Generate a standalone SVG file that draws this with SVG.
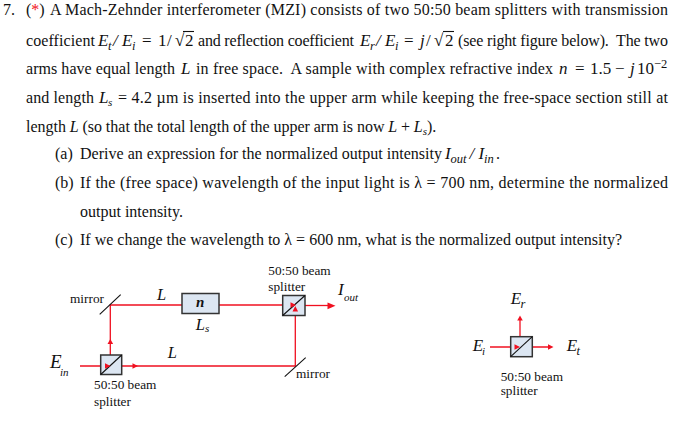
<svg xmlns="http://www.w3.org/2000/svg" width="697" height="426" viewBox="0 0 697 426">
<style>
text{font-family:"Liberation Serif","Times New Roman",serif;fill:#111;white-space:pre}
.b{font-size:16px}
.n{font-size:17px}
.m{font-size:17px;font-style:italic}
.s{font-size:12.5px;font-style:italic}
.d{font-size:11px;font-style:italic}
.l{font-size:13.3px}
.v{font-size:16.500px;font-style:italic}
.box{fill:#dce6f2;stroke:#333;stroke-width:1.5}
.k{stroke:#111;stroke-width:1.1;fill:none}
.r{stroke:#f01020;stroke-width:1.3;fill:none}
.h{fill:#f01020;stroke:none}
</style>
<g id="problem-text">
<text class="b" x="3" y="15">7.</text>
<text class="b" x="26" y="15">(<tspan style="fill:#f01020">*</tspan>)</text>
<text class="b" x="50" y="15" textLength="618">A Mach-Zehnder interferometer (MZI) consists of two 50:50 beam splitters with transmission</text>
<text class="b" x="26" y="46" textLength="69">coefficient</text>
<text class="m" x="98" y="46">E</text><text class="s" x="108" y="49.500">t</text><text class="m" x="113" y="46">/</text><text class="m" x="122" y="46">E</text><text class="s" x="132" y="49.500">i</text>
<text class="n" x="142" y="46">=</text><text class="n" x="158" y="46">1</text><text class="n" x="167" y="46">/</text><text class="n" x="175" y="46">√</text><text class="n" x="185" y="46">2</text>
<path class="k" d="M183 31.500H194"/>
<text class="b" x="198" y="46" textLength="156">and reflection coefficient</text>
<text class="m" x="360" y="46">E</text><text class="s" x="370" y="49.500">r</text><text class="m" x="376" y="46">/</text><text class="m" x="385" y="46">E</text><text class="s" x="395" y="49.500">i</text>
<text class="n" x="404" y="46">=</text><text class="m" x="420" y="46">j</text><text class="n" x="426" y="46">/</text><text class="n" x="434" y="46">√</text><text class="n" x="445" y="46">2</text>
<path class="k" d="M443 31.500H454"/>
<text class="b" x="458" y="46" textLength="210">(see right figure below).  The two</text>
<text class="b" x="26" y="74" textLength="149">arms have equal length</text>
<text class="m" x="181" y="74">L</text>
<text class="b" x="196" y="74" textLength="357">in free space.  A sample with complex refractive index</text>
<text class="m" x="559" y="74">n</text>
<text class="n" x="575" y="74">=</text><text class="n" x="590" y="74">1.5</text><text class="n" x="615" y="74">−</text>
<text class="m" x="630" y="74">j</text><text class="n" x="637" y="74">10</text><text class="s" x="654" y="68" style="font-style:normal">−2</text>
<text class="b" x="26" y="103" textLength="68">and length</text>
<text class="m" x="99" y="103">L</text><text class="d" x="108" y="106">s</text>
<text class="b" x="118" y="103" textLength="550">= 4.2 µm is inserted into the upper arm while keeping the free-space section still at</text>
<text class="b" x="26" y="132" word-spacing="-0.2">length <tspan font-style="italic">L</tspan> (so that the total length of the upper arm is now <tspan font-style="italic">L</tspan> + <tspan font-style="italic">L<tspan font-size="11px" dy="3">s</tspan></tspan><tspan dy="-3">).</tspan></text>
<text class="b" x="55" y="159">(a)</text>
<text class="b" x="80" y="159" textLength="362">Derive an expression for the normalized output intensity</text>
<text class="m" x="445" y="159">I</text><text class="s" x="450.500" y="163">out</text><text class="m" x="469.500" y="159">/</text><text class="m" x="478.500" y="159">I</text><text class="s" x="484" y="163">in</text><text class="b" x="496" y="159">.</text>
<text class="b" x="55" y="188">(b)</text>
<text class="b" x="80" y="188" textLength="588">If the (free space) wavelength of the input light is λ = 700 nm, determine the normalized</text>
<text class="b" x="80" y="217">output intensity.</text>
<text class="b" x="55" y="245">(c)</text>
<text class="b" x="80" y="245" textLength="542">If we change the wavelength to λ = 600 nm, what is the normalized output intensity?</text>
</g>
<g id="connectors">
<path class="r" d="M80 366H295.300V310"/>
<path class="r" d="M110.300 366V305H182"/>
<path class="r" d="M219 305H292"/>
<path class="r" d="M305 305.500H330"/>
<path class="r" d="M490 347H550"/>
<path class="r" d="M520 347V319"/>
</g>
<g id="beam-splitter-1">
<rect class="box" x="100.700" y="355" width="21" height="19.500"/>
<path class="k" d="M100.700 374.500L121.700 355"/>
</g>
<g id="beam-splitter-2">
<rect class="box" x="282.700" y="295.500" width="22.300" height="20"/>
<path class="k" d="M282.700 315.500L305 295.500"/>
</g>
<g id="beam-splitter-3">
<rect class="box" x="510.700" y="336.700" width="21.600" height="20"/>
<path class="k" d="M510.700 356.700L532.300 336.700"/>
</g>
<g id="sample">
<rect class="box" x="182" y="293.500" width="37" height="20"/>
<text x="196" y="307" font-size="15" font-style="italic" font-weight="bold">n</text>
</g>
<g id="mirror-1"><path class="k" d="M99.700 314.300L120.700 294.700"/></g>
<g id="mirror-2"><path class="k" d="M284.700 376.700L305.700 357.700"/></g>
<g id="arrowheads">
<path class="h" d="M110.300 339L107.500 344H113.100Z"/>
<path class="h" d="M110.500 366L105 363.200V368.800Z"/>
<path class="h" d="M138 366L132.500 363.200V368.800Z"/>
<path class="h" d="M296 305L290.500 302.200V307.800Z"/>
<path class="h" d="M295.300 306L292.500 311.500H298.100Z"/>
<path class="h" d="M335.500 305.800L327.500 302.500V309.200Z"/>
<path class="h" d="M520 347L514.500 344.200V349.800Z"/>
<path class="h" d="M553.500 347L548 344.200V349.800Z"/>
<path class="h" d="M520 315.500L517.200 320.500H522.800Z"/>
</g>
<g id="labels">
<text class="l" x="70" y="302.700">mirror</text>
<text class="v" x="157" y="300">L</text>
<text class="v" x="195.700" y="330">L<tspan font-size="11px" dy="2">s</tspan></text>
<text class="v" x="167.700" y="358">L</text>
<text x="50" y="368" font-size="19" font-style="italic">E</text>
<text class="d" x="60" y="376">in</text>
<text class="l" x="94" y="389">50:50 beam</text>
<text class="l" x="94" y="405.500">splitter</text>
<text class="l" x="268.300" y="275">50:50 beam</text>
<text class="l" x="268.300" y="291">splitter</text>
<text x="338" y="295" font-size="17" font-style="italic">I</text>
<text class="d" x="344" y="301">out</text>
<text class="l" x="296" y="378">mirror</text>
<text class="m" x="510.700" y="304">E</text><text class="s" x="520.500" y="307.500">r</text>
<text class="m" x="472.700" y="351">E</text><text class="d" x="482" y="355">i</text>
<text class="m" x="566.700" y="351">E</text><text class="s" x="576.500" y="354.500">t</text>
<text class="l" x="500.700" y="380.700">50:50 beam</text>
<text class="l" x="500.700" y="395">splitter</text>
</g>
</svg>
